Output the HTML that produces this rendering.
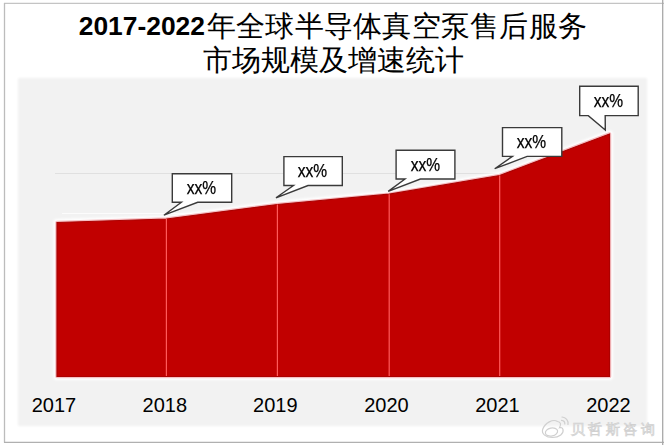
<!DOCTYPE html>
<html><head><meta charset="utf-8">
<style>
html,body{margin:0;padding:0;background:#fff;}
body{width:664px;height:445px;position:relative;overflow:hidden;font-family:"Liberation Sans",sans-serif;}
svg{position:absolute;left:0;top:0;}
.t{position:absolute;white-space:nowrap;color:#000;}
#t1{left:1px;width:664px;text-align:center;top:8px;font-size:29px;line-height:36px;}
#t1 b{font-weight:bold;font-size:26.4px;position:relative;top:-1px;}
#t2{left:1.5px;width:664px;text-align:center;top:41.5px;font-size:29px;line-height:36px;}
.lab{position:absolute;top:393px;width:80px;margin-left:-40px;text-align:center;font-size:20px;line-height:24px;color:#000;}
.co{position:absolute;width:59px;text-align:center;font-size:17.5px;line-height:18px;color:#000;transform:scaleX(0.89);-webkit-text-stroke:0.25px #000;}
#wm{position:absolute;left:571px;top:420.3px;font-size:14px;line-height:18px;letter-spacing:3.4px;color:#fbfbfb;-webkit-text-stroke:0.7px #d0d0d0;}
</style></head><body>
<svg width="664" height="445" viewBox="0 0 664 445">
  <defs>
    <filter id="bl" x="-5%" y="-5%" width="110%" height="110%"><feGaussianBlur stdDeviation="0.8"/></filter>
    <filter id="bl2" x="-5%" y="-5%" width="110%" height="110%"><feGaussianBlur stdDeviation="0.6"/></filter>
  </defs>
  <g stroke-width="1.3">
    <line x1="4" y1="3.3" x2="664" y2="3.3" stroke="#c4c4c4"/>
    <line x1="4.5" y1="3" x2="4.5" y2="442.5" stroke="#bcbcbc"/>
    <line x1="4" y1="442.4" x2="664" y2="442.4" stroke="#b0b0b0"/>
    <line x1="662.7" y1="0" x2="662.7" y2="445" stroke="#a8a8a8"/>
  </g>
  <rect x="18" y="78" width="629" height="348" fill="#f2f2f2" filter="url(#bl)"/>
  <line x1="55" y1="173.5" x2="610" y2="173.5" stroke="#e0e0e0" stroke-width="1"/>
  <line x1="62" y1="213.5" x2="300" y2="213.5" stroke="#ffffff" stroke-width="1" opacity="0.8"/>
  <polygon points="57,222.5 166.4,219 277.4,204.5 389.2,194.2 499.7,175.5 609.5,134 609.5,376.5 57,376.5" fill="none" stroke="#ffffff" stroke-width="7" stroke-linejoin="round" filter="url(#bl)"/>
  <polygon points="57,222.5 166.4,219 277.4,204.5 389.2,194.2 499.7,175.5 609.5,134 609.5,376.5 57,376.5" fill="none" stroke="#f5c0c4" stroke-width="3.6" stroke-linejoin="round" filter="url(#bl2)"/>
  <polygon points="57,222.5 166.4,219 277.4,204.5 389.2,194.2 499.7,175.5 609.5,134 609.5,376.5 57,376.5" fill="#c10000" stroke="#ac0000" stroke-width="1.2"/>
  <g stroke="#ff5a5a" stroke-width="1.2">
    <line x1="166.4" y1="219" x2="166.4" y2="376"/>
    <line x1="277.4" y1="204.5" x2="277.4" y2="376"/>
    <line x1="389.2" y1="194.2" x2="389.2" y2="376"/>
    <line x1="499.7" y1="175.5" x2="499.7" y2="376"/>
  </g>
  <g fill="#fff" stroke="#3a3a3a" stroke-width="1.4" stroke-linejoin="miter">
    <path d="M172.3,173.8 H231.7 V202.3 H197.7 L163.9,215.2 L181.4,202.3 H172.3 Z"/>
    <path d="M283.9,156.6 H342.3 V185.5 H308 L276,197.8 L293.5,185.5 H283.9 Z"/>
    <path d="M396.1,150.3 H454.9 V179 H420.4 L388.2,191.4 L405,179 H396.1 Z"/>
    <path d="M502.5,127.6 H561.8 V156.4 H527.1 L494.7,168.7 L512.4,156.4 H502.5 Z"/>
    <path d="M579.7,86.2 H638.2 V115.6 H605.2 L605.3,130 L588.3,115.6 H579.7 Z"/>
  </g>
  <g fill="none" stroke="#d0d0d0" stroke-width="1.2" stroke-linecap="round">
    <path d="M557.5,421.5 C553,418.5 545,423 542.8,429 C541,434 546,437.5 552.5,437.5 C559.5,437.5 564,433.5 563,429.5 C562.5,427.8 561,427.3 559.5,427.8 C561.5,424 560.5,422 557.5,421.5 Z"/>
    <ellipse cx="551.5" cy="432" rx="6.2" ry="4" transform="rotate(-12 551.5 432)"/>
    <path d="M562,417 C566,417.5 568.5,420.5 568,424.5"/>
    <path d="M561.5,420.3 C563.8,420.6 565,422 564.8,424"/>
  </g>
</svg>
<div class="t" id="t1"><b>2017-2022</b><span style="letter-spacing:0.25px;margin-left:2px">年全球半导体真空泵售后服务</span></div>
<div class="t" id="t2">市场规模及增速统计</div>
<div class="lab" style="left:54px">2017</div>
<div class="lab" style="left:164.8px">2018</div>
<div class="lab" style="left:275.3px">2019</div>
<div class="lab" style="left:386.4px">2020</div>
<div class="lab" style="left:497.4px">2021</div>
<div class="lab" style="left:608.4px">2022</div>
<div class="co" style="left:171.8px;top:179px">xx%</div>
<div class="co" style="left:283.4px;top:161.8px">xx%</div>
<div class="co" style="left:395.6px;top:155.5px">xx%</div>
<div class="co" style="left:502.0px;top:132.8px">xx%</div>
<div class="co" style="left:579px;top:92.4px">xx%</div>
<div id="wm">贝哲斯咨询</div>
</body></html>
